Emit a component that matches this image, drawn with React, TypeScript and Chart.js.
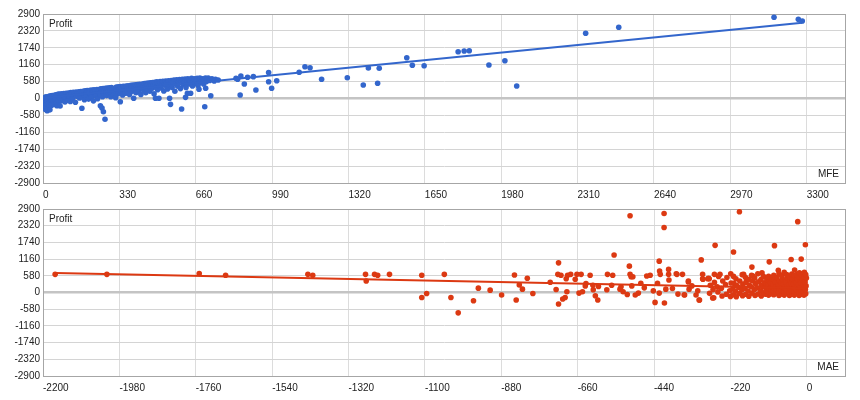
import React, { useEffect, useRef } from "react";
import { Chart, registerables } from "chart.js";

Chart.register(...registerables);

// ---------- axes ----------
const mfeTicks = [0, 330, 660, 990, 1320, 1650, 1980, 2310, 2640, 2970, 3300];
const maeTicks = [-2200, -1980, -1760, -1540, -1320, -1100, -880, -660, -440, -220, 0];
const profitTicks = [-2900, -2320, -1740, -1160, -580, 0, 580, 1160, 1740, 2320, 2900];
const mfeRange = [0, 3470];
const maeRange = [-2200, 113];
const profitRange = [-2900, 2900];

// ---------- MFE vs Profit ----------
const mfeNearZero: [number, number][] = [
  [2, -50], [3, -150], [4, -260], [5, -90], [6, 10], [7, -200], [8, -320], [9, 40], [10, -120], [11, -380],
  [12, -20], [13, -240], [14, 60], [15, -300], [16, -160], [17, -60], [18, -420], [19, 30], [20, -100], [21, -210],
  [22, -340], [24, 70], [25, -30], [26, -180], [28, -270], [29, 80], [30, -390], [31, -80], [33, 20], [34, -150],
  [36, 90], [37, -230], [38, -40], [40, 100],
];
const mfeLow: [number, number][] = [
  [42, -120], [45, 50], [47, -200], [49, 110], [52, -60], [54, 20], [56, 130], [58, -150], [60, -250], [62, 80],
  [64, 140], [66, -30], [68, -100], [70, 150], [72, 40], [74, -257], [76, 110], [78, -80], [80, 160], [82, 10],
  [85, 120], [87, -40], [90, 170], [92, 60], [95, -120], [97, 140], [100, 180], [102, 20], [105, 90], [108, -60],
  [110, 190], [112, 130], [115, 40], [118, -100], [120, 200], [123, 150], [126, 60], [128, -20], [131, 210], [134, 110],
  [137, 170], [140, -130], [143, 220], [146, 80], [149, 190],
];
const mfeMid: [number, number][] = [
  [152, 100], [155, 230], [158, 20], [160, 160], [163, 240], [166, 60], [168, -336], [170, 200], [173, 250], [176, 120],
  [179, -40], [182, 260], [185, 180], [188, 70], [191, 270], [194, 210], [197, -20], [200, 240], [203, 280], [206, 140],
  [209, 40], [212, 290], [215, 220], [218, -80], [221, 300], [224, 160], [227, 250], [230, 90], [233, 310], [236, -10],
  [239, 270], [242, 200], [245, 320], [248, -250], [248, 120], [251, 330], [254, 260], [255, -330], [257, 60], [260, 340],
  [261, -453], [263, 180], [266, 300], [268, -710], [270, 350], [272, 230], [275, 100], [278, 360], [281, 290], [284, 170],
  [287, 370], [290, 240], [293, 60], [296, 380], [299, 310],
];
const mfeUpper: [number, number][] = [
  [302, 200], [305, 110], [308, 330], [311, 250], [314, 30], [317, 390], [320, 280], [323, 160], [326, 400], [329, 320],
  [332, 200], [334, -110], [335, 410], [338, 260], [341, 350], [344, 120], [347, 420], [350, 300], [353, 370], [356, 180],
  [359, 430], [362, 330], [365, 240], [368, 440], [371, 380], [374, 140], [377, 300], [380, 450], [383, 360], [386, 250],
  [389, 460], [392, 7], [393, 390], [396, 300], [399, 470], [402, 200], [405, 410], [408, 480], [411, 330], [414, 250],
  [417, 490], [420, 420], [423, 140], [426, 360], [429, 500], [432, 440], [435, 290], [438, 510], [441, 380], [444, 200],
  [447, 520], [450, 450], [453, 320], [456, 530], [459, 400], [462, 250], [465, 540], [468, 470], [471, 350], [474, 550],
  [477, 420], [480, 160], [483, 560], [486, 7], [486, 480], [489, 380], [492, 570], [495, 300], [498, 500],
];
const mfeTop: [number, number][] = [
  [501, 7], [503, 430], [506, 580], [510, 360], [514, 520], [518, 590], [522, 260], [526, 460], [530, 600], [534, 540],
  [538, 330], [542, 610], [547, 7], [548, 480], [551, -200], [554, 620], [558, 380], [562, 560], [566, 630], [570, 250],
  [574, 500], [578, 640], [582, 420], [586, 580], [590, 650], [594, 340], [599, -360], [598, 600], [602, 660], [606, 470],
  [610, 540], [614, 670], [616, 40], [618, 380], [622, 610], [624, 178], [626, 680], [630, 500], [634, 640], [638, 178],
  [638, 560], [642, 690], [646, 430], [650, 620], [654, 680], [658, 520], [662, 600], [666, 690], [670, 450], [674, 316],
  [674, 640], [678, 700], [682, 560], [686, 620], [690, 680], [694, 500], [699, -281], [698, 640], [703, 350], [702, 700],
  [706, 580], [710, 660], [714, 700], [720, 620], [725, 96], [730, 680], [740, 600], [745, 660],
];
const mfeSparse: [number, number][] = [
  [757, 635], [834, 693], [841, 660], [852, 120], [855, 772], [870, 498], [884, 728], [909, 750], [920, 290], [975, 890],
  [975, 577], [988, 350], [1010, 611], [1107, 900], [1132, 1092], [1154, 1057], [1204, 659], [1315, 714], [1384, 463],
  [1406, 1047], [1446, 522], [1453, 1036], [1572, 1400], [1596, 1139], [1647, 1126], [1794, 1606], [1820, 1630],
  [1842, 1640], [1927, 1150], [1996, 1297], [2047, 429], [2345, 2237], [2488, 2443], [3159, 2786], [3264, 2718],
  [3281, 2660],
];
const mfeTrend: [number, number][] = [[0, 20], [3281, 2602]];

// ---------- MAE vs Profit ----------
const maeSparse: [number, number][] = [
  [-2165, 631], [-2016, 631], [-1750, 660], [-1674, 597], [-1437, 631], [-1423, 597], [-1271, 631], [-1269, 401],
  [-1245, 631], [-1236, 597], [-1202, 631], [-1109, 597], [-1109, -172], [-1095, -34], [-1044, 631], [-1025, -172],
  [-1004, -707], [-960, -285], [-946, 151], [-912, 82], [-879, -89], [-842, 607], [-837, -261], [-828, 264],
  [-819, 117], [-805, 494], [-789, -34], [-739, 357], [-722, 103], [-715, 1030], [-717, 631], [-708, 597],
  [-715, -398], [-703, -226], [-696, -172], [-691, 24], [-693, 480], [-689, 597], [-680, 631], [-667, 460],
  [-662, 631], [-650, 631],
];
const maeMid: [number, number][] = [
  [-656, -21], [-646, 24], [-638, 230], [-636, 309], [-624, 597], [-616, 254], [-615, 93], [-609, -113], [-602, -261],
  [-600, 206], [-576, 93], [-574, 631], [-562, 254], [-559, 597], [-555, 1300], [-538, 117], [-535, 196], [-529, 24],
  [-517, -69], [-511, 916], [-509, 631], [-506, 549], [-501, 549], [-509, 2667], [-504, 230], [-494, -89], [-485, -21],
  [-478, 323], [-468, 161], [-461, 573], [-451, 597], [-442, 58], [-437, -343], [-430, 323], [-425, 1088], [-424, 745],
  [-422, 631], [-425, -21], [-411, 2746], [-411, 2255], [-410, -364], [-406, 117], [-398, 803],
];
const maeRight: [number, number][] = [
  [-398, 631], [-374, 631], [-358, 631], [-397, 436], [-387, 137], [-371, -55], [-352, -89], [-341, 367], [-339, 117],
  [-331, 230], [-319, -89], [-314, 58], [-310, -261], [-300, 631], [-300, 480], [-285, 480], [-376, 652], [-341, 401],
  [-353, -79], [-309, -261], [-304, 1133], [-299, 460], [-283, 494], [-264, 1637], [-266, 631], [-250, 631], [-271, -192],
  [-211, 1407], [-194, 2804], [-219, 652], [-182, 631], [-158, 882], [-155, 573], [-129, 686], [-108, 1064], [-93, 1627],
  [-82, 769], [-45, 1146], [-26, 2461], [-16, 1160], [-4, 1660],
];
const maeBlobLeft: [number, number][] = [
  [-280, -30], [-278, 250], [-281, 480], [-268, -180], [-270, 100], [-266, 350], [-256, 20], [-258, 200], [-254, 560],
  [-244, -120], [-246, 150], [-242, 400], [-232, -60], [-234, 280], [-230, 520], [-220, -140], [-222, 60], [-218, 330],
];
const maeBlobMid: [number, number][] = [
  [-212, -80], [-213, 120], [-210, 320], [-211, 560], [-203, -150], [-205, 40], [-202, 240], [-204, 480],
  [-194, -30], [-196, 180], [-193, 400], [-185, -110], [-187, 90], [-184, 290], [-186, 620], [-176, -60],
  [-178, 150], [-175, 360], [-177, 530], [-167, -130], [-169, 50], [-166, 260], [-168, 460], [-158, -20],
  [-160, 200], [-157, 410], [-159, 600], [-149, -100], [-151, 100], [-148, 310], [-150, 500], [-140, -50],
  [-142, 160], [-139, 370], [-141, 650], [-131, -120], [-133, 60], [-130, 250], [-132, 450], [-124, -10],
  [-126, 190], [-123, 340], [-125, 560],
];
const maeBlobRight: [number, number][] = [
  [-118, -60], [-116, 60], [-119, 190], [-117, 300], [-115, 450],
  [-110, -90], [-111, 20], [-109, 130], [-112, 260], [-108, 400], [-110, 560],
  [-102, -40], [-103, 90], [-101, 210], [-104, 340], [-100, 480],
  [-95, -80], [-96, 40], [-94, 160], [-97, 290], [-93, 420], [-95, 600],
  [-88, -20], [-89, 110], [-87, 230], [-90, 370], [-86, 520],
  [-80, -100], [-81, 10], [-79, 140], [-82, 270], [-78, 400], [-80, 650],
  [-72, -50], [-73, 70], [-71, 200], [-74, 330], [-70, 470], [-72, 580],
  [-65, -90], [-66, 30], [-64, 160], [-67, 290], [-63, 420], [-65, 700],
  [-58, -30], [-59, 100], [-57, 230], [-60, 360], [-56, 500], [-58, 620],
  [-50, -100], [-51, 20], [-49, 150], [-52, 280], [-48, 410], [-50, 560],
  [-43, -60], [-44, 60], [-42, 190], [-45, 320], [-41, 460], [-43, 640],
  [-36, -90], [-37, 40], [-35, 170], [-38, 300], [-34, 430], [-36, 590], [-35, 780],
  [-29, -40], [-30, 90], [-28, 220], [-31, 350], [-27, 480], [-29, 620],
  [-22, -100], [-23, 20], [-21, 150], [-24, 280], [-20, 410], [-22, 540], [-21, 680],
  [-15, -60], [-16, 70], [-14, 200], [-17, 330], [-13, 460], [-15, 600],
  [-8, -90], [-9, 30], [-7, 160], [-10, 290], [-6, 420], [-8, 560], [-7, 700],
  [-3, -40], [-4, 100], [-2, 230], [-5, 360], [-1, 500], [-3, 620],
];
const maeTrend: [number, number][] = [[-2165, 675], [-3, 148]];

const BLUE = "#3366cc";
const RED = "#dc3912";
const FONT = '"Liberation Sans", Arial, sans-serif';

type PanelProps = {
  points: [number, number][];
  trend: [number, number][];
  color: string;
  xTicks: number[];
  xRange: number[];
  xTitle: string;
  padTop: number;
  axisHeight: number;
  top: number;
};

function Panel(props: PanelProps) {
  const ref = useRef<HTMLCanvasElement | null>(null);
  useEffect(() => {
    if (!ref.current) return;
    const { points, trend, color, xTicks, xRange, xTitle, padTop, axisHeight } = props;
    const frame = {
      id: "frame",
      beforeDatasetsDraw(chart: any) {
        const { ctx, chartArea: a } = chart;
        ctx.save();
        ctx.strokeStyle = "#a6a6a6";
        ctx.lineWidth = 1;
        ctx.strokeRect(Math.round(a.left) + 0.5, Math.round(a.top) + 0.5, Math.round(a.right - a.left) - 1, Math.round(a.bottom - a.top));
        ctx.restore();
      },
      afterDraw(chart: any) {
        const { ctx, chartArea: a } = chart;
        ctx.save();
        ctx.font = `10px ${FONT}`;
        ctx.fillStyle = "#222";
        ctx.textBaseline = "middle";
        ctx.textAlign = "left";
        ctx.fillText("Profit", a.left + 6, a.top + 10);
        ctx.textAlign = "right";
        ctx.fillText(xTitle, a.right - 7, a.bottom - 8.5);
        ctx.restore();
      },
    };
    const chart = new Chart(ref.current, {
      type: "scatter",
      data: {
        datasets: [
          {
            data: trend.map(([x, y]) => ({ x, y })),
            showLine: true,
            borderColor: color,
            borderWidth: 2,
            pointRadius: 0,
            pointHoverRadius: 0,
            order: 0,
          } as any,
          {
            data: points.map(([x, y]) => ({ x, y })),
            backgroundColor: color,
            borderWidth: 0,
            pointRadius: 2.8,
            pointHoverRadius: 2.8,
            order: 1,
          } as any,
        ],
      },
      options: {
        animation: false,
        responsive: false,
        maintainAspectRatio: false,
        events: [],
        layout: { padding: { left: 0, right: 14, top: padTop, bottom: 0 } },
        plugins: { legend: { display: false }, tooltip: { enabled: false } },
        scales: {
          x: {
            type: "linear",
            min: xRange[0],
            max: xRange[1],
            afterBuildTicks: (s: any) => {
              s.ticks = xTicks.map((v) => ({ value: v }));
            },
            afterFit: (s: any) => {
              s.height = axisHeight;
            },
            grid: { color: "#dcdcdc", lineWidth: 1, drawTicks: false },
            border: { display: false },
            ticks: {
              padding: 6,
              autoSkip: false,
              maxRotation: 0,
              align: "start",
              color: "#222",
              font: { family: FONT, size: 10 },
              callback: (v: any) => String(v),
            },
          },
          y: {
            type: "linear",
            min: profitRange[0],
            max: profitRange[1],
            afterBuildTicks: (s: any) => {
              s.ticks = profitTicks.map((v) => ({ value: v }));
            },
            afterFit: (s: any) => {
              s.width = 43;
            },
            grid: {
              color: (c: any) => (c.tick && c.tick.value === 0 ? "#c4c4c4" : "#d4d4d4"),
              lineWidth: (c: any) => (c.tick && c.tick.value === 0 ? 2.5 : 1),
              drawTicks: false,
            },
            border: { display: false },
            ticks: {
              padding: 3,
              color: "#222",
              font: { family: FONT, size: 10 },
              callback: (v: any) => String(v),
            },
          },
        },
      },
      plugins: [frame],
    });
    return () => chart.destroy();
  }, []);
  return (
    <canvas
      ref={ref}
      width={860}
      height={200}
      style={{ position: "absolute", left: 0, top: props.top, width: 860, height: 200, display: "block" }}
    />
  );
}

export default function App() {
  const mfePoints = [...mfeNearZero, ...mfeLow, ...mfeMid, ...mfeUpper, ...mfeTop, ...mfeSparse];
  const maePoints = [...maeSparse, ...maeMid, ...maeRight, ...maeBlobLeft, ...maeBlobMid, ...maeBlobRight];
  return (
    <div style={{ position: "absolute", left: 0, top: 0, width: 860, height: 400, background: "#fff" }}>
      <Panel points={mfePoints} trend={mfeTrend} color={BLUE} xTicks={mfeTicks} xRange={mfeRange} xTitle="MFE" padTop={14} axisHeight={17} top={0} />
      <Panel points={maePoints} trend={maeTrend} color={RED} xTicks={maeTicks} xRange={maeRange} xTitle="MAE" padTop={7} axisHeight={24} top={200} />
    </div>
  );
}
